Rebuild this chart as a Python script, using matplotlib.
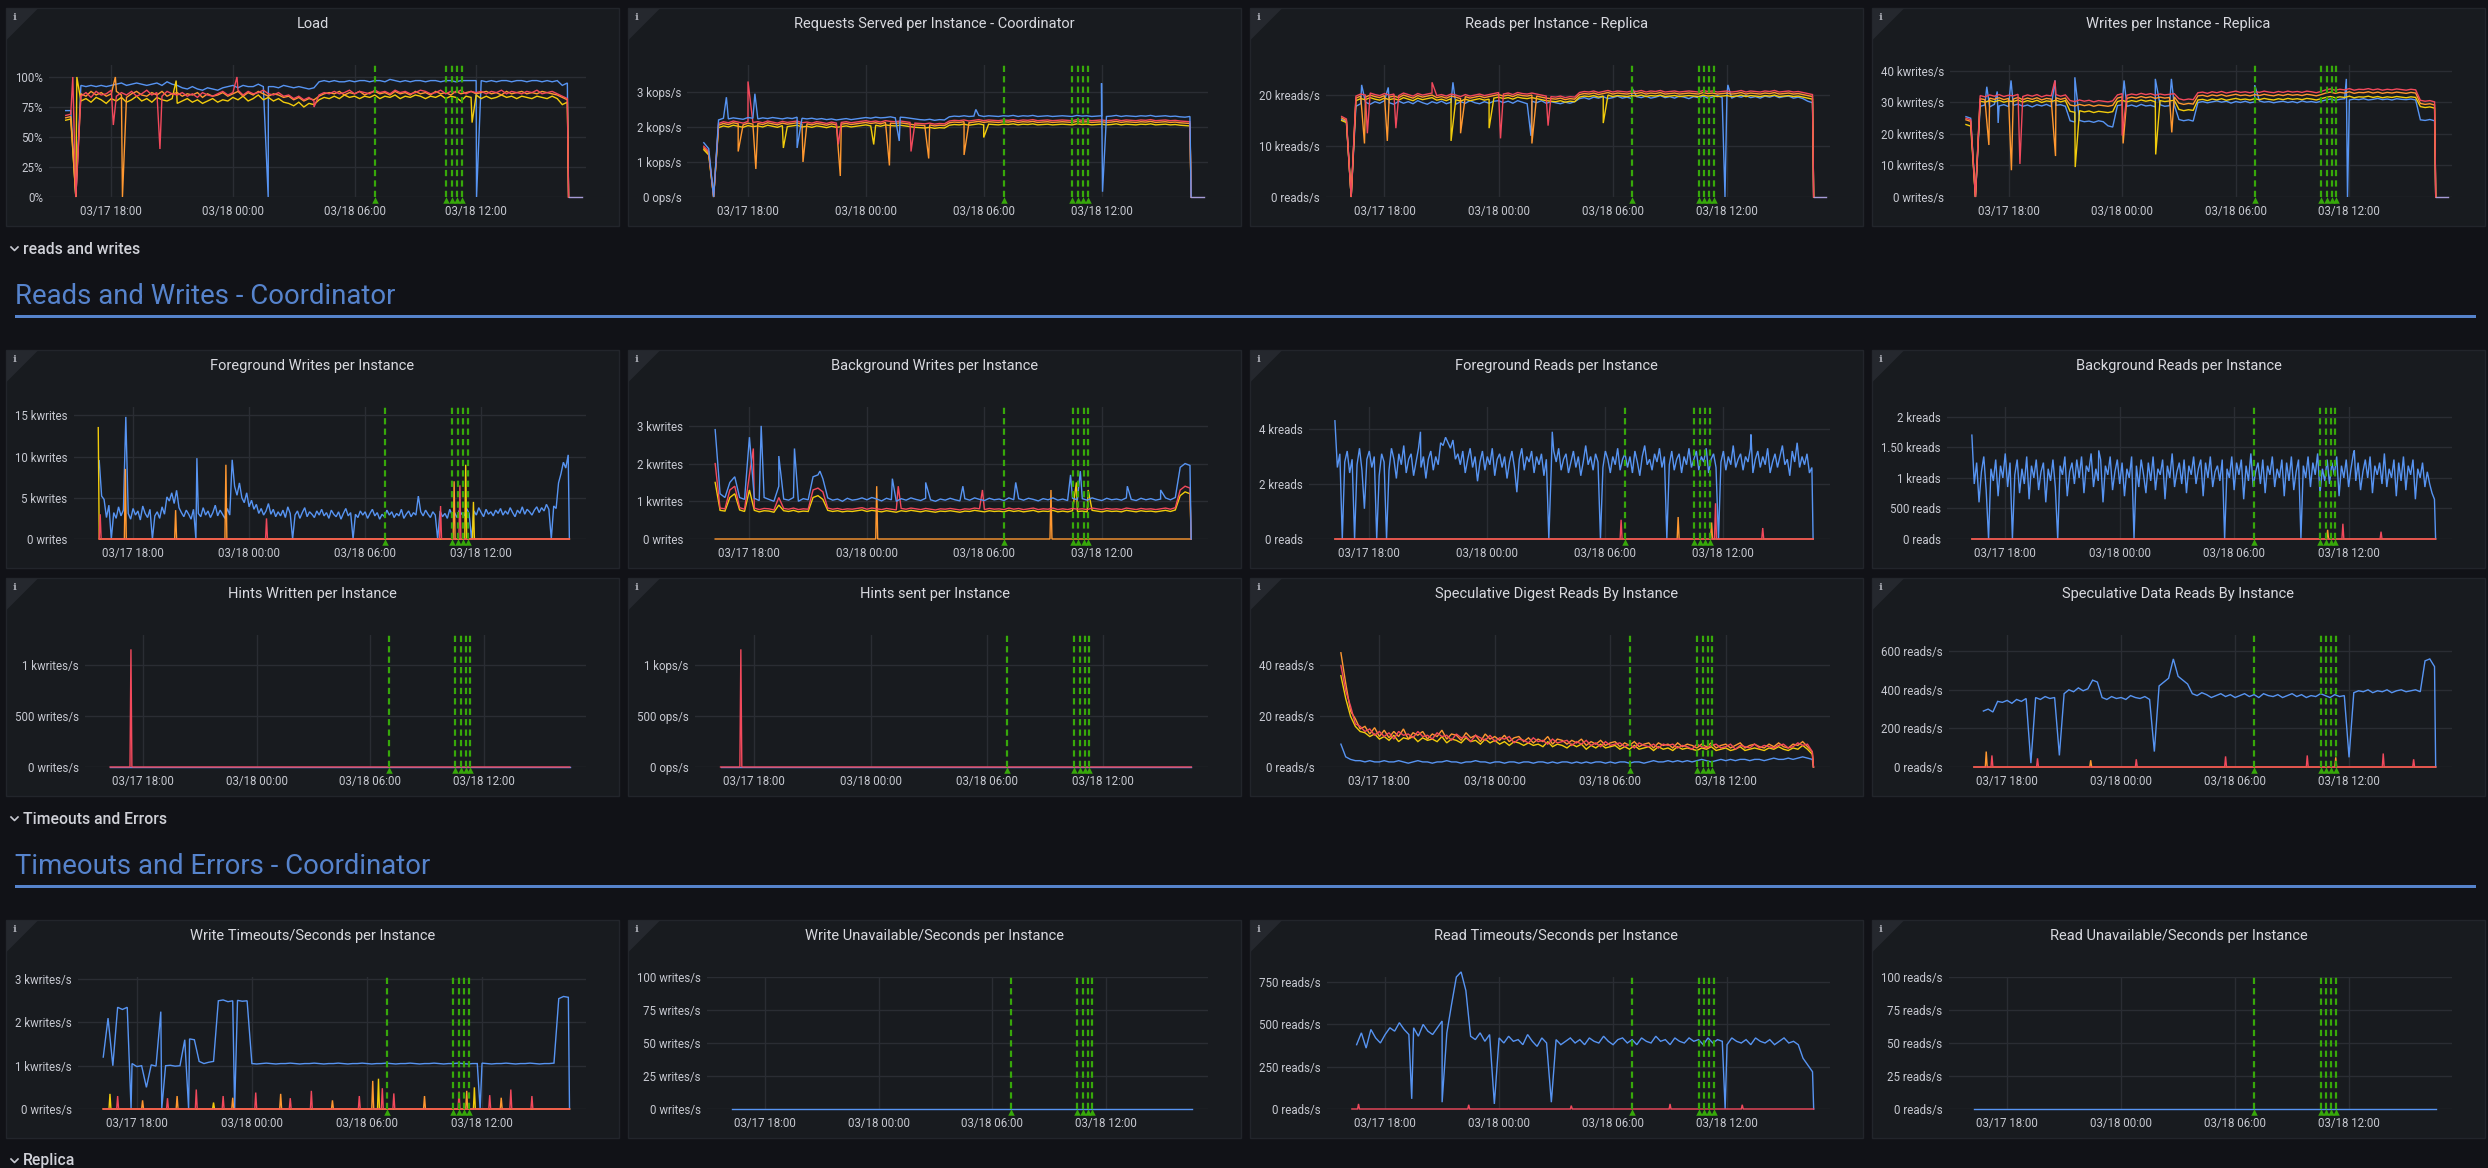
import numpy as np
import matplotlib
matplotlib.use("Agg")
import matplotlib.pyplot as plt
from matplotlib.patches import Rectangle, Polygon

plt.rcParams['font.family'] = ['Roboto', 'DejaVu Sans']
plt.rcParams['lines.scale_dashes'] = False

W, H = 2488, 1168
BG = '#111217'
PANEL = '#181b1f'
BORDER = '#22252b'
GRID = '#2a2d33'
TXT = '#c7c9d1'
TITLE_C = '#d8d9df'
HEAD_C = '#5683cc'
BLUE = '#5794f2'
RED = '#f2495c'
ORANGE = '#ff9830'
YELLOW = '#f2cc0c'
LILAC = '#a59ad6'
ANN = '#37a80a'

# time axis (hours since 03/17 00:00)
XMIN, XMAX = 14.92, 41.42
XTICKS = [18, 24, 30, 36]
XLABELS = ['03/17 18:00', '03/18 00:00', '03/18 06:00', '03/18 12:00']
ANN_TIMES = [31.02, 34.51, 34.8, 35.07, 35.3]
T0, DT = 15.75, 0.25      # sample grid of the value lists
T0F, DTF = 16.25, 0.125   # finer grid for the noisy row-2 series
END = [(40.56, 0)]
TAIL_T = [40.56, 41.2]
TAIL_V = [0, 0]

# ---------------- Load ----------------
LOAD_BLUE = [72, 72, 0, 93, 92, 93, 92, 93, 92, 93,
             94, 95, 93, 94, 95, 94, 93, 94, 95, 93,
             96, 94, 93, 91, 90, 92, 90, 89, 91, 90,
             89, 91, 92, 93, 91, 93, 92, 92, 94, 92,
             92, 92, 91, 93, 92, 91, 92, 91, 90, 91,
             96, 97, 96, 97, 96, 96, 97, 96, 97, 97,
             96, 97, 97, 96, 98, 97, 96, 97, 96, 97,
             97, 96, 97, 97, 96, 97, 97, 96, 97, 97,
             97, 97, 97, 96, 97, 96, 97, 97, 96, 97,
             97, 96, 97, 97, 96, 97, 96, 97, 93, 95]
LOAD_BLUE_SP = [(25.74, 0), (36.02, 0)]
LOAD_RED = [68, 69, 0, 84, 87, 83, 88, 85, 86, 89,
            84, 87, 85, 88, 84, 86, 89, 85, 87, 84,
            88, 86, 85, 87, 84, 86, 83, 87, 85, 84,
            86, 88, 85, 87, 89, 85, 88, 86, 87, 89,
            86, 85, 87, 84, 85, 82, 84, 81, 83, 80,
            85, 87, 86, 88, 86, 87, 89, 86, 88, 87,
            86, 89, 87, 88, 86, 89, 87, 88, 86, 87,
            89, 88, 86, 87, 89, 86, 88, 87, 89, 86,
            88, 87, 88, 86, 88, 87, 89, 86, 88, 87,
            86, 88, 87, 89, 86, 87, 88, 86, 84, 82]
LOAD_RED_SP = [(16.1, 100), (18.1, 60), (20.4, 40), (24.2, 100), (28.0, 75)]
LOAD_ORANGE = [66, 67, 0, 86, 84, 88, 85, 87, 84, 86,
               88, 85, 83, 86, 88, 85, 84, 87, 85, 88,
               84, 86, 87, 84, 86, 85, 87, 83, 86, 84,
               85, 87, 84, 86, 88, 84, 87, 85, 88, 86,
               84, 86, 85, 83, 84, 81, 83, 80, 82, 81,
               84, 86, 87, 86, 88, 85, 87, 86, 88, 85,
               87, 88, 86, 87, 85, 88, 86, 87, 85, 88,
               86, 87, 85, 88, 86, 87, 85, 88, 86, 87,
               88, 86, 87, 88, 86, 87, 85, 88, 86, 87,
               88, 86, 87, 86, 88, 87, 86, 85, 83, 81]
LOAD_ORANGE_SP = [(18.2, 100), (18.55, 0)]
LOAD_YELLOW = [64, 65, 0, 80, 82, 79, 83, 81, 78, 82,
               80, 83, 79, 81, 84, 80, 82, 79, 83, 81,
               80, 82, 78, 80, 82, 79, 81, 78, 80, 82,
               79, 81, 80, 83, 81, 84, 80, 82, 85, 81,
               83, 80, 82, 79, 78, 76, 79, 75, 78, 77,
               81, 83, 82, 84, 82, 85, 83, 84, 82, 84,
               83, 85, 82, 84, 83, 85, 82, 84, 83, 85,
               84, 82, 84, 83, 85, 82, 84, 83, 80, 84,
               83, 85, 82, 84, 82, 83, 85, 83, 84, 82,
               84, 83, 82, 84, 83, 82, 84, 82, 77, 79]
LOAD_YELLOW_SP = [(16.3, 100), (21.2, 97), (35.8, 62)]

# ---------------- Requests served ----------------
REQ_BLUE = [1550, 1380, 0, 2200, 2250, 2230, 2260, 2240, 2220, 2270,
            2250, 2230, 2260, 2240, 2270, 2250, 2230, 2260, 2240, 2280,
            2250, 2230, 2250, 2220, 2240, 2210, 2230, 2200, 2220, 2240,
            2210, 2230, 2250, 2270, 2250, 2280, 2260, 2270, 2290, 2260,
            2280, 2270, 2250, 2230, 2210, 2200, 2220, 2190, 2210, 2200,
            2290, 2310, 2300, 2320, 2300, 2310, 2330, 2300, 2320, 2310,
            2300, 2320, 2310, 2330, 2300, 2320, 2310, 2330, 2300, 2310,
            2320, 2300, 2310, 2320, 2310, 2300, 2330, 2310, 2320, 2300,
            2310, 2320, 2300, 2310, 2330, 2300, 2320, 2310, 2300, 2320,
            2310, 2330, 2300, 2310, 2320, 2300, 2310, 2290, 2280, 2300]
REQ_BLUE_SP = [(16.9, 2850), (18.35, 2950), (20.5, 1400), (25.7, 1600),
               (29.6, 2500), (36.0, 3250), (36.05, 150)]
REQ_RED = [1450, 1300, 0, 2100, 2150, 2120, 2170, 2140, 2110, 2160,
           2130, 2150, 2120, 2170, 2140, 2110, 2160, 2130, 2150, 2170,
           2120, 2140, 2110, 2150, 2130, 2100, 2140, 2110, 2130, 2150,
           2120, 2140, 2160, 2180, 2150, 2170, 2140, 2180, 2160, 2150,
           2170, 2150, 2130, 2110, 2100, 2090, 2110, 2080, 2100, 2090,
           2170, 2190, 2180, 2200, 2170, 2190, 2210, 2180, 2200, 2190,
           2180, 2200, 2190, 2210, 2180, 2200, 2190, 2210, 2180, 2190,
           2200, 2180, 2190, 2200, 2190, 2180, 2210, 2190, 2200, 2180,
           2190, 2200, 2180, 2190, 2210, 2180, 2200, 2190, 2180, 2200,
           2190, 2210, 2180, 2190, 2200, 2180, 2190, 2170, 2160, 2150]
REQ_RED_SP = [(18.0, 3300), (22.6, 1500), (26.3, 1300)]
REQ_ORANGE = [1400, 1250, 0, 2050, 2100, 2070, 2120, 2090, 2060, 2110,
              2080, 2100, 2070, 2120, 2090, 2060, 2110, 2080, 2100, 2120,
              2070, 2090, 2060, 2100, 2080, 2050, 2090, 2060, 2080, 2100,
              2070, 2090, 2110, 2130, 2100, 2120, 2090, 2130, 2110, 2100,
              2120, 2100, 2080, 2060, 2050, 2040, 2060, 2030, 2050, 2040,
              2120, 2140, 2130, 2150, 2120, 2140, 2160, 2130, 2150, 2140,
              2130, 2150, 2140, 2160, 2130, 2150, 2140, 2160, 2130, 2140,
              2150, 2130, 2140, 2150, 2140, 2130, 2160, 2140, 2150, 2130,
              2140, 2150, 2130, 2140, 2160, 2130, 2150, 2140, 2130, 2150,
              2140, 2160, 2130, 2140, 2150, 2130, 2140, 2120, 2110, 2100]
REQ_ORANGE_SP = [(17.5, 1300), (18.4, 800), (20.8, 1000), (22.7, 600),
                 (25.2, 900), (27.2, 1100), (29.0, 1200)]
REQ_YELLOW = [1350, 1200, 0, 1980, 2030, 2000, 2050, 2020, 1990, 2040,
              2010, 2030, 2000, 2050, 2020, 1990, 2040, 2010, 2030, 2050,
              2000, 2020, 1990, 2030, 2010, 1980, 2020, 1990, 2010, 2030,
              2000, 2020, 2040, 2060, 2030, 2050, 2020, 2060, 2040, 2030,
              2050, 2030, 2010, 1990, 1980, 1970, 1990, 1960, 1980, 1970,
              2050, 2070, 2060, 2080, 2050, 2070, 2090, 2060, 2080, 2070,
              2060, 2080, 2070, 2090, 2060, 2080, 2070, 2090, 2060, 2070,
              2080, 2060, 2070, 2080, 2070, 2060, 2090, 2070, 2080, 2060,
              2070, 2080, 2060, 2070, 2090, 2060, 2080, 2070, 2060, 2080,
              2070, 2090, 2060, 2070, 2080, 2060, 2070, 2050, 2040, 2030]
REQ_YELLOW_SP = [(19.8, 1400), (24.4, 1500), (30.0, 1700)]

# ---------------- Reads per instance - replica ----------------
RD_BLUE = [15200, 14800, 0, 17800, 18300, 18600, 18200, 18700, 18400, 18900,
           18500, 18200, 18800, 18400, 18700, 18300, 18900, 18500, 18200, 18700,
           18400, 18800, 18300, 18600, 18200, 18700, 18400, 18900, 18500, 18300,
           18700, 18400, 18800, 18900, 18500, 18800, 18400, 18900, 18600, 18300,
           18800, 18500, 18900, 18400, 18700, 18500, 18300, 18600, 18400, 18700,
           19300, 19500, 19200, 19600, 19400, 19700, 19300, 19500, 19800, 19400,
           19600, 19300, 19700, 19500, 19800, 19400, 19600, 19900, 19500, 19700,
           19400, 19800, 19600, 19300, 19700, 19500, 19800, 19400, 19600, 19900,
           19500, 19700, 19400, 19800, 19600, 19900, 19500, 19700, 19400, 19800,
           19600, 19900, 19500, 19700, 19800, 19400, 19600, 19300, 18800, 18500]
RD_BLUE_SP = [(16.8, 22000), (18.2, 21500), (21.6, 22500), (25.7, 12000),
              (31.0, 21500), (35.9, 0), (36.05, 22000)]
RD_RED = [15800, 15300, 0, 19800, 20200, 20000, 20400, 20100, 19900, 20300,
          20000, 20200, 19900, 20400, 20100, 19800, 20300, 20000, 20200, 20400,
          19900, 20100, 19800, 20200, 20000, 19700, 20100, 19800, 20000, 20200,
          19900, 20100, 20300, 20500, 20200, 20400, 20100, 20500, 20300, 20200,
          20400, 20200, 20000, 19800, 19700, 19600, 19800, 19500, 19700, 19600,
          20500, 20700, 20600, 20800, 20500, 20700, 20900, 20600, 20800, 20700,
          20600, 20800, 20700, 20900, 20600, 20800, 20700, 20900, 20600, 20700,
          20800, 20600, 20700, 20800, 20700, 20600, 20900, 20700, 20800, 20600,
          20700, 20800, 20600, 20700, 20900, 20600, 20800, 20700, 20600, 20800,
          20700, 20900, 20600, 20700, 20800, 20600, 20700, 20500, 20300, 20100]
RD_RED_SP = [(17.1, 12500), (18.6, 13500), (20.5, 22500), (24.1, 11500), (26.6, 14000)]
RD_ORANGE = [15500, 15000, 0, 19400, 19800, 19600, 20000, 19700, 19500, 19900,
             19600, 19800, 19500, 20000, 19700, 19400, 19900, 19600, 19800, 20000,
             19500, 19700, 19400, 19800, 19600, 19300, 19700, 19400, 19600, 19800,
             19500, 19700, 19900, 20100, 19800, 20000, 19700, 20100, 19900, 19800,
             20000, 19800, 19600, 19400, 19300, 19200, 19400, 19100, 19300, 19200,
             20100, 20300, 20200, 20400, 20100, 20300, 20500, 20200, 20400, 20300,
             20200, 20400, 20300, 20500, 20200, 20400, 20300, 20500, 20200, 20300,
             20400, 20200, 20300, 20400, 20300, 20200, 20500, 20300, 20400, 20200,
             20300, 20400, 20200, 20300, 20500, 20200, 20400, 20300, 20200, 20400,
             20300, 20500, 20200, 20300, 20400, 20200, 20300, 20100, 19900, 19700]
RD_ORANGE_SP = [(16.95, 10500), (18.15, 11000), (22.0, 12500), (25.75, 10500)]
RD_YELLOW = [15000, 14600, 0, 18900, 19300, 19100, 19500, 19200, 19000, 19400,
             19100, 19300, 19000, 19500, 19200, 18900, 19400, 19100, 19300, 19500,
             19000, 19200, 18900, 19300, 19100, 18800, 19200, 18900, 19100, 19300,
             19000, 19200, 19400, 19600, 19300, 19500, 19200, 19600, 19400, 19300,
             19500, 19300, 19100, 18900, 18800, 18700, 18900, 18600, 18800, 18700,
             19600, 19800, 19700, 19900, 19600, 19800, 20000, 19700, 19900, 19800,
             19700, 19900, 19800, 20000, 19700, 19900, 19800, 20000, 19700, 19800,
             19900, 19700, 19800, 19900, 19800, 19700, 20000, 19800, 19900, 19700,
             19800, 19900, 19700, 19800, 20000, 19700, 19900, 19800, 19700, 19900,
             19800, 20000, 19700, 19800, 19900, 19700, 19800, 19600, 19400, 19200]
RD_YELLOW_SP = [(21.5, 11000), (23.5, 13500), (29.5, 14500)]

# ---------------- Writes per instance - replica ----------------
WR_BLUE = [25500, 25000, 0, 28800, 29200, 28600, 29400, 28900, 29300, 28700,
           29100, 29500, 28800, 29200, 28600, 29300, 28900, 29400, 28700, 29100,
           29300, 28800, 24200, 23800, 24300, 23900, 24100, 23700, 24200, 23900,
           22600, 22200, 29000, 29300, 28800, 29200, 28700, 29400, 28900, 29100,
           28600, 29300, 28800, 29000, 29200, 24600, 24200, 24500, 24100, 30000,
           30300, 29900, 30200, 30500, 30100, 30400, 29800, 30300, 30000, 30400,
           29900, 30200, 30500, 30100, 30300, 29900, 30200, 30400, 30000, 30300,
           29900, 30500, 30100, 30300, 30000, 30400, 30800, 31100, 30700, 31000,
           31200, 30800, 31100, 30900, 31200, 30800, 31000, 31300, 30900, 31100,
           30800, 31200, 31000, 30900, 31100, 30800, 24500, 24300, 24600, 24200]
WR_BLUE_SP = [(16.85, 35000), (17.4, 33500), (17.45, 23500), (18.13, 37000),
              (20.46, 37000), (21.5, 38000), (24.1, 37000), (25.75, 37500),
              (26.6, 37500), (31.0, 35500), (35.84, 37500), (35.9, 0)]
WR_RED = [25000, 24500, 0, 32200, 31800, 32400, 32000, 32500, 31900, 32300,
          32100, 32600, 31900, 32400, 32000, 32500, 31800, 32300, 32100, 32500,
          32000, 32400, 30600, 30300, 30800, 30400, 30700, 30200, 30600, 30400,
          30200, 30500, 32400, 32800, 32300, 32700, 32400, 32900, 32500, 32800,
          32300, 32700, 32400, 32600, 32800, 31200, 30800, 31100, 30900, 33100,
          33300, 32900, 33400, 33100, 33500, 33000, 33300, 33600, 33200, 33400,
          33100, 33500, 33200, 33600, 33300, 33100, 33500, 33200, 33600, 33300,
          33500, 33200, 33600, 33400, 33100, 33500, 34000, 34300, 33900, 34200,
          34000, 34400, 33900, 34200, 34100, 34400, 34000, 34300, 33900, 34200,
          34000, 34300, 34100, 33900, 34200, 34000, 30700, 30400, 30600, 30200]
WR_RED_SP = [(18.6, 10500), (24.0, 19500), (20.45, 37000)]
WR_ORANGE = [24500, 24000, 0, 31200, 30900, 31400, 31000, 31500, 30900, 31300,
             31100, 31600, 30900, 31400, 31000, 31500, 30800, 31300, 31100, 31500,
             31000, 31400, 29200, 28900, 29400, 29000, 29300, 28800, 29200, 29000,
             28800, 29100, 31400, 31800, 31300, 31700, 31400, 31900, 31500, 31800,
             31300, 31700, 31400, 31600, 31800, 29800, 29400, 29700, 29500, 32100,
             32300, 31900, 32400, 32100, 32500, 32000, 32300, 32600, 32200, 32400,
             32100, 32500, 32200, 32600, 32300, 32100, 32500, 32200, 32600, 32300,
             32500, 32200, 32600, 32400, 32100, 32500, 33000, 33300, 32900, 33200,
             33000, 33400, 32900, 33200, 33100, 33400, 33000, 33300, 32900, 33200,
             33000, 33300, 33100, 32900, 33200, 33000, 29700, 29400, 29600, 29200]
WR_ORANGE_SP = [(16.96, 16500), (18.15, 8500), (20.48, 13000), (24.05, 17000), (26.62, 20500)]
WR_YELLOW = [23000, 22500, 0, 30400, 30100, 30600, 30200, 30700, 30100, 30500,
             30300, 30800, 30100, 30600, 30200, 30700, 30000, 30500, 30300, 30700,
             30200, 30600, 27200, 26900, 27400, 27000, 27300, 26800, 27200, 27000,
             26800, 27100, 30300, 30700, 30200, 30600, 30300, 30800, 30400, 30700,
             30200, 30600, 30300, 30500, 30700, 27800, 27400, 27700, 27500, 30800,
             31000, 30600, 31100, 30800, 31200, 30700, 31000, 31300, 30900, 31100,
             30800, 31200, 30900, 31300, 31000, 30800, 31200, 30900, 31300, 31000,
             31200, 30900, 31300, 31100, 30800, 31200, 31600, 31900, 31500, 31800,
             31600, 32000, 31500, 31800, 31700, 32000, 31600, 31900, 31500, 31800,
             31600, 31900, 31700, 31500, 31800, 31600, 28700, 28400, 28600, 28200]
WR_YELLOW_SP = [(21.52, 9500), (25.77, 13500)]

# ---------------- Foreground writes (fine grid) ----------------
FGW_BLUE = [9500, 5200, 4800, 2600, 4100, 0, 3200, 2500, 3900, 2800, 3500, 14800, 3100, 2400, 3700,
            2900, 3400, 2300, 4000, 3100, 2600, 3600, 0, 2800, 3300, 2500, 3900, 3000, 5100, 4600,
            5600, 4300, 5900, 3800, 3200, 2700, 3500, 3000, 2400, 3600, 0, 3100, 2700, 3800, 2900,
            3400, 2600, 3200, 4100, 2800, 3500, 3000, 2500, 3700, 2900, 9600, 6400, 5300, 6800, 5000,
            4400, 5600, 3900, 4700, 3600, 4200, 3100, 3700, 2900, 3400, 4300, 3000, 3600, 2700, 3300,
            2800, 3500, 2600, 3900, 3100, 0, 2900, 3400, 2500, 3200, 3800, 2700, 3300, 3000, 2600,
            3400, 2900, 3600, 2800, 3200, 2500, 3500, 3000, 2700, 3300, 2400, 3100, 3700, 2800, 3200,
            0, 3000, 2600, 3400, 2900, 3300, 2500, 3100, 3600, 2800, 3200, 2400, 3000, 2700, 3500,
            2900, 3300, 2600, 3100, 2800, 3600, 2500, 3000, 3400, 2700, 3200, 2900, 5200, 3300, 2800,
            3500, 3000, 2600, 3300, 2900, 0, 3400, 2700, 3100, 2500, 3600, 2900, 3200, 2600, 3500,
            3000, 2800, 3700, 3100, 0, 3400, 2900, 3800, 3200, 2700, 3600, 3000, 3300, 2800, 3500,
            3100, 3700, 2900, 3400, 3000, 3800, 3200, 2700, 3500, 3100, 3900, 3000, 3600, 3300, 2900,
            3500, 3900, 3200, 3800, 3400, 4200, 3600, 0, 4000, 3700, 6800, 7900, 9300, 8600, 10200]
FGW_BLUE_SP = [(21.3, 9800)]
FGW_RED_SP = [(16.3, 3000), (24.9, 2500), (33.9, 4000), (34.9, 6500)]
FGW_ORANGE_SP = [(17.6, 8500), (20.2, 3500), (22.8, 9000), (34.6, 7000)]
FGW_YELLOW_SP = [(16.2, 13500), (35.2, 9000), (35.6, 4500)]

# ---------------- Background writes ----------------
BGW_BLUE = [np.nan, np.nan, 2900, 1200, 1100, 1500, 1650, 1100, 1050, 2700,
            1080, 1020, 1100, 1050, 1000, 1400, 1060, 1030, 1100, 1000,
            1070, 1040, 1650, 1700, 1600, 1090, 1030, 1060, 1000, 1080,
            1030, 1050, 1090, 1040, 1100, 1060, 1010, 1080, 1040, 1000,
            1070, 1030, 1090, 1050, 1020, 1080, 1040, 1000, 1060, 1030,
            1080, 1040, 1010, 1070, 1030, 1090, 1050, 1020, 1080, 1040,
            1060, 1020, 1090, 1040, 1070, 1030, 1080, 1050, 1010, 1070,
            1040, 1090, 1030, 1060, 1020, 1080, 1040, 1070, 1030, 1090,
            1050, 1020, 1080, 1040, 1060, 1030, 1090, 1050, 1020, 1080,
            1040, 1070, 1030, 1060, 1090, 1040, 1100, 1900, 2000, 1950]
BGW_BLUE_SP = [(18.6, 3000), (19.5, 2200), (20.3, 2400), (21.6, 1800), (25.3, 1600),
               (27.0, 1500), (28.9, 1400), (31.6, 1500), (34.4, 1700), (34.9, 1800),
               (37.3, 1400), (39.0, 1300)]
BGW_RED = [np.nan, np.nan, 2000, 820, 800, 1300, 1400, 830, 790, 1700,
           820, 780, 810, 800, 770, 1100, 810, 790, 820, 780,
           800, 790, 1300, 1350, 1250, 820, 790, 810, 780, 800,
           790, 810, 830, 790, 820, 800, 780, 810, 790, 770,
           810, 790, 820, 800, 780, 810, 790, 770, 800, 790,
           810, 790, 770, 800, 790, 820, 800, 780, 810, 790,
           800, 780, 820, 790, 810, 780, 800, 820, 780, 800,
           790, 820, 780, 800, 780, 810, 790, 800, 780, 820,
           800, 780, 810, 790, 800, 780, 820, 800, 780, 810,
           790, 800, 780, 800, 820, 790, 830, 1300, 1400, 1350]
BGW_RED_SP = [(18.2, 2400), (25.6, 1400), (29.9, 1300)]
BGW_ORANGE_SP = [(24.5, 1400), (33.4, 1300)]
BGW_YELLOW = [np.nan, np.nan, 1500, 760, 740, 1100, 1200, 770, 730, 1300,
              760, 720, 750, 740, 710, 900, 750, 730, 760, 720,
              740, 730, 1100, 1150, 1050, 760, 730, 750, 720, 740,
              730, 750, 770, 730, 760, 740, 720, 750, 730, 710,
              750, 730, 760, 740, 720, 750, 730, 710, 740, 730,
              750, 730, 710, 740, 730, 760, 740, 720, 750, 730,
              740, 720, 760, 730, 750, 720, 740, 760, 720, 740,
              730, 760, 720, 740, 720, 750, 730, 740, 720, 760,
              740, 720, 750, 730, 740, 720, 760, 740, 720, 750,
              730, 740, 720, 740, 760, 730, 770, 1150, 1250, 1200]
BGW_YELLOW_SP = [(34.7, 1500), (35.3, 1300)]

# ---------------- Foreground reads (fine grid) ----------------
FGR_BLUE = [4300, 2600, 3100, 0, 2800, 3200, 2400, 2900, 0, 2700, 3300, 2500, 1100, 2900, 3200,
            2600, 3000, 0, 2300, 3100, 2800, 0, 2500, 3300, 2900, 2200, 3100, 2700, 3400, 2400,
            2900, 3100, 2300, 2800, 3300, 2600, 3000, 2200, 2900, 3200, 2500, 3000, 2700, 3500, 3400,
            3700, 3500, 3300, 3600, 2900, 3100, 2700, 3200, 2400, 2900, 3300, 2600, 3000, 2100, 2800,
            3200, 2500, 3000, 2700, 3300, 2300, 2900, 3100, 2600, 3000, 2200, 2800, 3200, 2600, 1700,
            2900, 3300, 2500, 3000, 2800, 3200, 2400, 3000, 2700, 3100, 2300, 2900, 0, 2600, 3200,
            2800, 3300, 2500, 2900, 3100, 2400, 2800, 3200, 2600, 3000, 2300, 2800, 3400, 2700, 3000,
            2500, 3100, 2800, 0, 2600, 3200, 2900, 2400, 3000, 2700, 3300, 2500, 2900, 3100, 2600,
            3000, 2400, 3200, 2800, 2300, 3000, 3400, 2700, 2900, 2500, 3100, 2800, 3300, 2600, 3000,
            0, 2700, 3200, 2500, 2900, 3100, 2400, 3000, 2700, 3300, 2600, 2900, 3200, 2500, 3000,
            2800, 3300, 2400, 2900, 3100, 2600, 0, 2800, 3200, 2500, 3000, 2700, 3400, 2600, 2900,
            3100, 2500, 3000, 2800, 3300, 2400, 2900, 3200, 2600, 3000, 2700, 3300, 2400, 2800, 3100,
            2600, 3000, 3400, 2700, 2900, 2300, 3200, 2800, 3500, 2600, 3000, 2700, 3100, 2400, 2600]
FGR_BLUE_SP = [(20.6, 3900), (27.3, 3900), (37.4, 3800)]
FGR_RED_SP = [(30.8, 700), (35.6, 1300), (38.0, 400)]
FGR_ORANGE_SP = [(33.7, 800), (35.4, 600)]

# ---------------- Background reads (fine grid) ----------------
BGR_BLUE = [1700, 900, 1250, 600, 1100, 1350, 800, 0, 1150, 950, 1300, 700, 1200, 1000, 1400,
            850, 1250, 0, 1050, 1300, 750, 1150, 900, 1350, 650, 1200, 1000, 1300, 800, 1100,
            1250, 600, 1150, 950, 1300, 850, 0, 1200, 1050, 1350, 700, 1100, 1250, 900, 1300,
            1000, 1350, 750, 1200, 1100, 1400, 850, 1150, 950, 1300, 600, 1200, 1050, 1350, 800,
            1100, 1300, 900, 1250, 700, 1150, 1000, 1350, 0, 1200, 850, 1300, 1050, 750, 1250,
            950, 1350, 800, 1150, 1050, 1300, 650, 1200, 1000, 1400, 850, 1100, 1250, 900, 1300,
            750, 1200, 1050, 1350, 900, 1150, 1300, 700, 1250, 1000, 1350, 850, 1100, 1200, 950,
            1300, 0, 1150, 1000, 1350, 800, 1250, 1050, 1300, 650, 1200, 950, 1400, 850, 1100,
            1250, 900, 1300, 750, 1200, 1050, 1350, 850, 1150, 1000, 1300, 700, 1250, 950, 1350,
            800, 1100, 1300, 0, 1200, 1000, 1350, 850, 1250, 1050, 1400, 750, 1150, 950, 1300,
            900, 1250, 1050, 1350, 700, 1200, 1000, 1300, 850, 1150, 1400, 950, 1250, 800, 1100,
            1300, 1000, 1350, 750, 1200, 1050, 1250, 900, 1400, 850, 1150, 1000, 1300, 700, 1250,
            950, 1350, 800, 1200, 1050, 1300, 650, 1150, 1000, 1250, 850, 1100, 900, 750, 650]
BGR_BLUE_SP = [(22.9, 1450), (36.3, 1450)]
BGR_RED_SP = [(35.7, 250), (37.7, 120)]
BGR_ORANGE_SP = [(34.9, 150)]

# ---------------- Hints ----------------
HW_RED_SP = [(17.35, 1150)]
HS_RED_SP = [(17.3, 1150)]

# ---------------- Speculative digest reads ----------------
SD_ORANGE = [np.nan, 45, 33, 22, 19, 15, 16, 13, 15.5, 12,
             14.5, 11.5, 14, 12, 15, 11, 13.5, 12.5, 14, 11,
             13, 12, 14.5, 11, 13, 12.5, 10.5, 13.5, 11.5, 12.5,
             10, 13, 11, 12, 10.5, 12.5, 10, 11.5, 12, 10,
             11.5, 9.5, 11, 10, 12, 9, 11, 10.5, 9, 10.5,
             9.5, 11, 8.5, 10, 9, 10.5, 8.5, 9.5, 10, 8,
             9.5, 8.5, 10, 8, 9, 9.5, 7.5, 9.5, 8.5, 9,
             7.5, 9.5, 8, 9, 8.5, 7.5, 9, 8, 9.5, 7.5,
             8.5, 9, 7.5, 8.5, 9.5, 7.5, 8.5, 9, 8, 7.5,
             9, 8, 9.5, 8, 7.5, 9, 8.5, 10, 8, 6]
SD_RED = [np.nan, 40, 30, 24, 17, 16, 14, 15, 12.5, 14,
          12, 13.5, 11, 14, 12.5, 13, 11.5, 14, 12, 12.5,
          11, 13.5, 12, 12.5, 10.5, 13, 11.5, 12, 10, 12.5,
          11.5, 10.5, 12.5, 10, 11.5, 11, 12, 9.5, 11, 10.5,
          9.5, 11.5, 10, 10.5, 9, 11, 9.5, 10, 10.5, 8.5,
          10, 9, 10.5, 8.5, 9.5, 8, 10, 8.5, 9, 9.5,
          8, 9, 7.5, 9.5, 8.5, 8, 9, 7.5, 9, 8.5,
          9, 7.5, 8.5, 8, 7, 9, 8, 7.5, 8.5, 9,
          7.5, 8, 9, 7, 8.5, 8, 7.5, 9, 7.5, 8.5,
          8, 7.5, 8.5, 9, 7.5, 8, 9.5, 8.5, 9, 6]
SD_YELLOW = [np.nan, 36, 27, 20, 16, 14, 13.5, 12, 13, 11,
             12, 10.5, 12.5, 10, 11.5, 11, 12, 10, 11.5, 10.5,
             11, 10, 12, 9.5, 11, 10.5, 9.5, 11.5, 10, 10.5,
             9, 11, 9.5, 10.5, 9, 10, 8.5, 10, 9.5, 8.5,
             9.5, 8.5, 9, 8, 10, 8, 9, 8.5, 7.5, 9,
             8, 9, 7, 8.5, 7.5, 9, 7.5, 8, 8.5, 7,
             8, 7, 8.5, 7, 7.5, 8, 6.5, 8, 7, 7.5,
             6.5, 8, 7, 7.5, 7, 6.5, 7.5, 7, 8, 6.5,
             7, 7.5, 6.5, 7, 8, 6.5, 7, 7.5, 7, 6.5,
             7.5, 7, 8, 7, 6.5, 7.5, 7, 8.5, 7, 5]
SD_BLUE = [np.nan, 9, 4, 3, 2.5, 2.5, 2, 2.5, 2, 2,
           2.5, 2, 2, 2.5, 2, 1.5, 2, 2.5, 2, 2,
           1.5, 2, 2, 2.5, 2, 2, 1.5, 2, 2, 2.5,
           2, 2, 1.5, 2, 2, 1.5, 2, 2, 1.5, 2,
           2, 1.5, 2, 2, 1.5, 2, 1.5, 2, 2, 1.5,
           2, 1.5, 2, 1.5, 2, 2, 1.5, 2, 1.5, 2,
           2, 1.5, 2, 2, 1.5, 2, 2.5, 2, 2, 2.5,
           2, 2.5, 2, 2.5, 2, 2.5, 3, 2.5, 2, 2.5,
           3, 2.5, 3, 2.5, 3, 3, 2.5, 3, 3, 2.5,
           3, 3.5, 3, 3, 3.5, 3, 3.5, 4, 3.5, 3]

# ---------------- Speculative data reads ----------------
SDR_BLUE = [np.nan, np.nan, np.nan, np.nan, 290, 300, 285, 340, 335, 345,
            330, 350, 340, 355, 20, 360, 350, 365, 355, 360,
            60, 380, 400, 390, 410, 395, 405, 450, 440, 360,
            350, 365, 355, 360, 350, 370, 360, 355, 365, 350,
            80, 420, 440, 460, 560, 470, 450, 430, 380, 370,
            385, 375, 360, 370, 380, 365, 375, 360, 370, 380,
            365, 375, 360, 380, 370, 365, 375, 360, 370, 380,
            365, 375, 360, 370, 365, 380, 370, 360, 375, 365,
            370, 50, 385, 395, 390, 400, 385, 395, 390, 400,
            385, 395, 400, 390, 395, 400, 390, 550, 560, 520]
SDR_RED_SP = [(17.2, 60), (19.6, 45), (24.8, 40), (29.5, 55), (33.8, 60), (37.8, 70), (39.4, 40)]
SDR_ORANGE_SP = [(16.9, 80), (22.4, 35), (35.3, 50)]

# ---------------- Write timeouts ----------------
WT_BLUE = [np.nan, np.nan, 1200, 2100, 1000, 2350, 2300, 2350, 1050, 980,
           1000, 500, 1020, 990, 2250, 1000, 1010, 990, 1000, 1600,
           1620, 1600, 1100, 1050, 1080, 1100, 2500, 2520, 2480, 2500,
           2510, 2490, 2500, 1050, 1040, 1050, 1060, 1050, 1040, 1050,
           1050, 1060, 1050, 1040, 1050, 1050, 1060, 1050, 1040, 1050,
           1050, 1060, 1050, 1040, 1050, 1050, 1060, 1050, 1040, 1050,
           1050, 1060, 1050, 1040, 1050, 1050, 1060, 1050, 1040, 1050,
           1050, 1060, 1050, 1040, 1050, 1050, 1060, 1050, 1040, 1050,
           1050, 1060, 1050, 1040, 1050, 1050, 1060, 1050, 1040, 1050,
           1050, 1060, 1050, 1040, 1050, 1050, 1060, 2550, 2600, 2580]
WT_BLUE_SP = [(17.7, 0), (19.3, 0), (20.7, 0), (23.1, 0), (35.9, 0)]
WT_RED_SP = [(17.0, 300), (19.6, 250), (21.1, 450), (22.5, 300), (24.2, 380),
             (26.0, 250), (27.1, 420), (29.6, 300), (30.8, 480), (31.4, 360),
             (34.8, 400), (36.4, 320), (37.5, 450), (38.6, 300)]
WT_ORANGE_SP = [(18.3, 200), (20.1, 300), (23.0, 260), (25.5, 350), (28.2, 200),
                (30.3, 650), (33.0, 300), (35.2, 420), (37.0, 260)]
WT_YELLOW_SP = [(16.6, 350), (22.0, 150), (30.6, 700), (35.6, 500)]

# ---------------- Read timeouts ----------------
RT_BLUE = [np.nan, np.nan, np.nan, 380, 450, 360, 470, 420, 390, 440,
           480, 460, 510, 470, 440, 480, 430, 500, 460, 440,
           480, 520, 450, 620, 780, 810, 700, 430, 410, 450,
           400, 440, 30, 420, 390, 430, 400, 410, 380, 440,
           400, 370, 420, 390, 40, 410, 380, 400, 420, 390,
           410, 380, 420, 400, 390, 430, 400, 380, 410, 420,
           390, 410, 380, 420, 400, 390, 430, 400, 410, 380,
           420, 400, 390, 420, 400, 410, 380, 420, 390, 410,
           400, 380, 420, 400, 390, 410, 380, 420, 400, 390,
           410, 380, 400, 420, 390, 400, 380, 300, 260, 220]
RT_BLUE_SP = [(19.4, 60), (21.0, 40), (35.9, 0)]
RT_RED_SP = [(16.6, 30), (22.4, 25), (27.8, 20), (33.0, 30), (36.8, 25)]

ZERO = [0, 0]
ZERO_T = [16.25, 40.56]


def build(vals, spikes=(), t0=T0, dt=DT):
    t = t0 + dt * np.arange(len(vals))
    v = np.array(vals, dtype=float)
    extra = list(spikes) + END
    st, sv = zip(*extra)
    t = np.concatenate([t, st])
    v = np.concatenate([v, sv])
    o = np.argsort(t, kind='stable')
    return t[o], v[o]


def fine(vals, spikes=()):
    return build(vals, spikes, t0=T0F, dt=DTF)


def spikes_only(spikes):
    # series at zero level except for the listed spikes
    pts = sorted([(ZERO_T[0], 0), (ZERO_T[1], 0)] + list(spikes))
    t, v = [], []
    for st, sv in pts:
        if sv != 0 and t:
            t.append(st - 0.05)
            v.append(0)
        t.append(st)
        v.append(sv)
        if sv != 0:
            t.append(st + 0.05)
            v.append(0)
    return np.array(t), np.array(v)


TAIL = (LILAC, (np.array(TAIL_T), np.array(TAIL_V)))
ZLINE = (np.array(ZERO_T), np.array(ZERO))

PANELS = [
    # row 1
    dict(title='Load', yt=[0, 25, 50, 75, 100], yl=['0%', '25%', '50%', '75%', '100%'], ymax=110,
         series=[(BLUE, build(LOAD_BLUE, LOAD_BLUE_SP)), (YELLOW, build(LOAD_YELLOW, LOAD_YELLOW_SP)),
                 (ORANGE, build(LOAD_ORANGE, LOAD_ORANGE_SP)), (RED, build(LOAD_RED, LOAD_RED_SP)), TAIL]),
    dict(title='Requests Served per Instance - Coordinator', yt=[0, 1000, 2000, 3000],
         yl=['0 ops/s', '1 kops/s', '2 kops/s', '3 kops/s'], ymax=3770,
         series=[(YELLOW, build(REQ_YELLOW, REQ_YELLOW_SP)), (ORANGE, build(REQ_ORANGE, REQ_ORANGE_SP)),
                 (RED, build(REQ_RED, REQ_RED_SP)), (BLUE, build(REQ_BLUE, REQ_BLUE_SP)), TAIL]),
    dict(title='Reads per Instance - Replica', yt=[0, 10000, 20000],
         yl=['0 reads/s', '10 kreads/s', '20 kreads/s'], ymax=25900,
         series=[(BLUE, build(RD_BLUE, RD_BLUE_SP)), (YELLOW, build(RD_YELLOW, RD_YELLOW_SP)),
                 (ORANGE, build(RD_ORANGE, RD_ORANGE_SP)), (RED, build(RD_RED, RD_RED_SP)), TAIL]),
    dict(title='Writes per Instance - Replica', yt=[0, 10000, 20000, 30000, 40000],
         yl=['0 writes/s', '10 kwrites/s', '20 kwrites/s', '30 kwrites/s', '40 kwrites/s'], ymax=41900,
         series=[(BLUE, build(WR_BLUE, WR_BLUE_SP)), (YELLOW, build(WR_YELLOW, WR_YELLOW_SP)),
                 (ORANGE, build(WR_ORANGE, WR_ORANGE_SP)), (RED, build(WR_RED, WR_RED_SP)), TAIL]),
    # row 2
    dict(title='Foreground Writes per Instance', yt=[0, 5000, 10000, 15000],
         yl=['0 writes', '5 kwrites', '10 kwrites', '15 kwrites'], ymax=16000,
         series=[(BLUE, fine(FGW_BLUE, FGW_BLUE_SP)), (YELLOW, spikes_only(FGW_YELLOW_SP)),
                 (ORANGE, spikes_only(FGW_ORANGE_SP)), (RED, spikes_only(FGW_RED_SP))]),
    dict(title='Background Writes per Instance', yt=[0, 1000, 2000, 3000],
         yl=['0 writes', '1 kwrites', '2 kwrites', '3 kwrites'], ymax=3500,
         series=[(YELLOW, build(BGW_YELLOW, BGW_YELLOW_SP)), (ORANGE, spikes_only(BGW_ORANGE_SP)),
                 (RED, build(BGW_RED, BGW_RED_SP)), (BLUE, build(BGW_BLUE, BGW_BLUE_SP))]),
    dict(title='Foreground Reads per Instance', yt=[0, 2000, 4000],
         yl=['0 reads', '2 kreads', '4 kreads'], ymax=4800,
         series=[(BLUE, fine(FGR_BLUE, FGR_BLUE_SP)), (ORANGE, spikes_only(FGR_ORANGE_SP)),
                 (RED, spikes_only(FGR_RED_SP))]),
    dict(title='Background Reads per Instance', yt=[0, 500, 1000, 1500, 2000],
         yl=['0 reads', '500 reads', '1 kreads', '1.50 kreads', '2 kreads'], ymax=2160,
         series=[(BLUE, fine(BGR_BLUE, BGR_BLUE_SP)), (ORANGE, spikes_only(BGR_ORANGE_SP)),
                 (RED, spikes_only(BGR_RED_SP))]),
    # row 3
    dict(title='Hints Written per Instance', yt=[0, 500, 1000],
         yl=['0 writes/s', '500 writes/s', '1 kwrites/s'], ymax=1290,
         series=[(BLUE, ZLINE), (RED, spikes_only(HW_RED_SP))]),
    dict(title='Hints sent per Instance', yt=[0, 500, 1000],
         yl=['0 ops/s', '500 ops/s', '1 kops/s'], ymax=1290,
         series=[(BLUE, ZLINE), (RED, spikes_only(HS_RED_SP))]),
    dict(title='Speculative Digest Reads By Instance', yt=[0, 20, 40],
         yl=['0 reads/s', '20 reads/s', '40 reads/s'], ymax=52,
         series=[(BLUE, build(SD_BLUE)), (YELLOW, build(SD_YELLOW)),
                 (ORANGE, build(SD_ORANGE)), (RED, build(SD_RED))]),
    dict(title='Speculative Data Reads By Instance', yt=[0, 200, 400, 600],
         yl=['0 reads/s', '200 reads/s', '400 reads/s', '600 reads/s'], ymax=684,
         series=[(BLUE, build(SDR_BLUE)), (ORANGE, spikes_only(SDR_ORANGE_SP)),
                 (RED, spikes_only(SDR_RED_SP))]),
    # row 4
    dict(title='Write Timeouts/Seconds per Instance', yt=[0, 1000, 2000, 3000],
         yl=['0 writes/s', '1 kwrites/s', '2 kwrites/s', '3 kwrites/s'], ymax=3050,
         series=[(BLUE, build(WT_BLUE, WT_BLUE_SP)), (YELLOW, spikes_only(WT_YELLOW_SP)),
                 (ORANGE, spikes_only(WT_ORANGE_SP)), (RED, spikes_only(WT_RED_SP))]),
    dict(title='Write Unavailable/Seconds per Instance', yt=[0, 25, 50, 75, 100],
         yl=['0 writes/s', '25 writes/s', '50 writes/s', '75 writes/s', '100 writes/s'], ymax=100,
         series=[(BLUE, ZLINE)]),
    dict(title='Read Timeouts/Seconds per Instance', yt=[0, 250, 500, 750],
         yl=['0 reads/s', '250 reads/s', '500 reads/s', '750 reads/s'], ymax=780,
         series=[(BLUE, build(RT_BLUE, RT_BLUE_SP)), (RED, spikes_only(RT_RED_SP))]),
    dict(title='Read Unavailable/Seconds per Instance', yt=[0, 25, 50, 75, 100],
         yl=['0 reads/s', '25 reads/s', '50 reads/s', '75 reads/s', '100 reads/s'], ymax=100,
         series=[(BLUE, ZLINE)]),
]

COL_X = [6, 628, 1250, 1872]
PANEL_W = 613
ROW_Y = [8, 350, 578, 920]
PANEL_H = 218
TICK_FS = 8.3

fig = plt.figure(figsize=(W / 100, H / 100), dpi=100, facecolor=BG)
bg = fig.add_axes([0, 0, 1, 1])
bg.set_xlim(0, W)
bg.set_ylim(H, 0)
bg.axis('off')
renderer = fig.canvas.get_renderer()


def text_width(s, fs):
    t = bg.text(0, 0, s, fontsize=fs)
    w = t.get_window_extent(renderer).width
    t.remove()
    return w


def section(y_row, y_head, label, heading):
    # collapsible row header with chevron
    bg.plot([11, 14.5, 18], [y_row - 2, y_row + 1.5, y_row - 2], color='#c7c9d1', lw=1.2)
    bg.text(23, y_row, label, fontsize=11.3, color='#d0d1d8', va='center', ha='left',
            fontweight='medium')
    if heading:
        bg.text(15, y_head, heading, fontsize=19.8, color=HEAD_C, va='center', ha='left')
        bg.add_patch(Rectangle((15, y_head + 17.5), 2461, 3, color=HEAD_C, lw=0))


for i, p in enumerate(PANELS):
    r, c = divmod(i, 4)
    x0, y0 = COL_X[c], ROW_Y[r]
    bg.add_patch(Rectangle((x0, y0), PANEL_W, PANEL_H, facecolor=PANEL, edgecolor=BORDER, lw=1))
    bg.add_patch(Polygon([(x0 + 0.5, y0 + 0.5), (x0 + 32, y0 + 0.5), (x0 + 0.5, y0 + 32)],
                         closed=True, facecolor='#25282e', lw=0))
    bg.text(x0 + 9, y0 + 9, 'i', fontsize=7.5, color='#a9abb3', ha='center', va='center',
            family='DejaVu Serif', fontweight='bold')
    bg.text(x0 + PANEL_W / 2, y0 + 16, p['title'], fontsize=10.5, color=TITLE_C,
            ha='center', va='center')

    lw_max = max(text_width(s, TICK_FS) for s in p['yl'])
    left = x0 + 9 + lw_max + 6
    right = x0 + PANEL_W - 33
    top = y0 + 57
    bottom = y0 + 189
    ax = fig.add_axes([left / W, 1 - bottom / H, (right - left) / W, (bottom - top) / H])
    ax.set_facecolor('none')
    for s in ax.spines.values():
        s.set_visible(False)
    ax.set_xlim(XMIN, XMAX)
    ax.set_ylim(0, p['ymax'])
    ax.set_xticks(XTICKS)
    ax.set_xticklabels(XLABELS)
    ax.set_yticks(p['yt'])
    ax.set_yticklabels(p['yl'])
    ax.tick_params(length=0, labelsize=TICK_FS, colors=TXT, pad=4.3)
    ax.tick_params(axis='x', pad=5.5)
    ax.grid(True, color=GRID, lw=1.0)
    ax.set_axisbelow(True)

    for color, (t, v) in p['series']:
        ax.plot(t, v, color=color, lw=1.0, clip_on=False, solid_joinstyle='miter')

    for ta in ANN_TIMES:
        ax.axvline(ta, color=ANN, lw=1.6, dashes=(4.5, 3.0), zorder=5)
    ax.scatter(ANN_TIMES, [-0.025] * len(ANN_TIMES), marker='^', s=22, color=ANN,
               transform=ax.get_xaxis_transform(), clip_on=False, zorder=6, linewidths=0)

section(249, 297, 'reads and writes', 'Reads and Writes - Coordinator')
section(819, 867, 'Timeouts and Errors', 'Timeouts and Errors - Coordinator')
section(1161, None, 'Replica', None)

fig.savefig('out.png', dpi=100, facecolor=BG)
